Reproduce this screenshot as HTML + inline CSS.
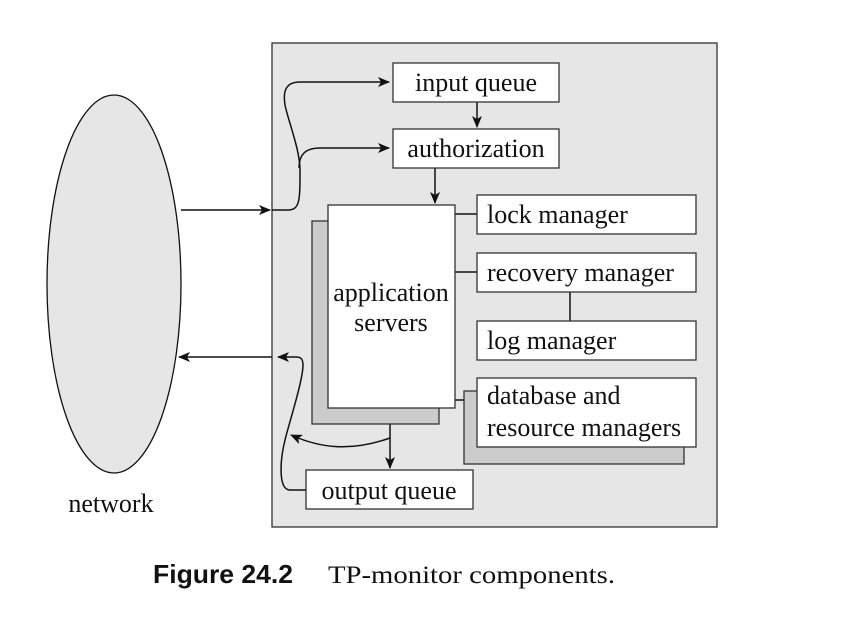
<!DOCTYPE html>
<html><head><meta charset="utf-8"><style>
html,body{margin:0;padding:0;background:#fff}
svg{display:block}
text{font-family:"Liberation Serif",serif;font-size:26px;fill:#111}
</style></head><body>
<svg width="851" height="637" viewBox="0 0 851 637" xmlns="http://www.w3.org/2000/svg">
<defs>
<marker id="a" viewBox="0 0 12 10" refX="11" refY="5" markerWidth="12" markerHeight="10" markerUnits="userSpaceOnUse" orient="auto">
<path d="M0,0 L12,5 L0,10 L3,5 Z" fill="#111"/></marker>
</defs>
<rect x="272" y="43" width="445" height="484" fill="#e6e6e6" stroke="#333" stroke-width="1.3"/>
<ellipse cx="114" cy="284" rx="67" ry="189" fill="#e6e6e6" stroke="#111" stroke-width="1.3"/>
<text x="111" y="512" text-anchor="middle">network</text>
<g stroke="#111" stroke-width="1.5" fill="none">
<line x1="181" y1="210" x2="270" y2="210" marker-end="url(#a)"/>
<path d="M272,210 L288,210 C300,210 300,200 300,170 C300,150 288,120 285,105 C283,92 285,82 300,82 L389,82" marker-end="url(#a)"/>
<path d="M299,168 C299,155 305,148 320,148 L389,148" marker-end="url(#a)"/>
<line x1="477" y1="102" x2="477" y2="127" marker-end="url(#a)"/>
<line x1="435" y1="168" x2="435" y2="203" marker-end="url(#a)"/>
<line x1="272" y1="357" x2="179" y2="357" marker-end="url(#a)"/>
<path d="M306,490 L290,490 C278,490 280,460 285,440 C290,420 303,380 303,365 C303,358 300,357 296,357 L278,357" marker-end="url(#a)"/>
<line x1="390" y1="408" x2="390" y2="468" marker-end="url(#a)"/>
<path d="M390,438 C350,452 320,448 291,435" marker-end="url(#a)"/>
<line x1="455" y1="214" x2="477" y2="214"/>
<line x1="455" y1="272" x2="477" y2="272"/>
<line x1="570" y1="292" x2="570" y2="321"/>
<line x1="455" y1="400" x2="477" y2="400"/>
</g>
<g stroke="#333" stroke-width="1.3">
<rect x="312" y="221" width="127" height="203" fill="#cccccc"/>
<rect x="328" y="205" width="127" height="203" fill="#fff"/>
<rect x="464" y="391" width="220" height="73" fill="#cccccc"/>
<rect x="477" y="378" width="219" height="69" fill="#fff"/>
<rect x="393" y="63" width="166" height="39" fill="#fff"/>
<rect x="393" y="129" width="166" height="39" fill="#fff"/>
<rect x="477" y="195" width="219" height="39" fill="#fff"/>
<rect x="477" y="253" width="219" height="39" fill="#fff"/>
<rect x="477" y="321" width="219" height="39" fill="#fff"/>
<rect x="306" y="470" width="167" height="39" fill="#fff"/>
</g>
<text x="476" y="91" text-anchor="middle">input queue</text>
<text x="476" y="157" text-anchor="middle">authorization</text>
<text x="391" y="301" text-anchor="middle">application</text>
<text x="391" y="331" text-anchor="middle">servers</text>
<text x="487" y="223">lock manager</text>
<text x="487" y="281">recovery manager</text>
<text x="487" y="349">log manager</text>
<text x="487" y="404">database and</text>
<text x="487" y="436">resource managers</text>
<text x="389" y="499" text-anchor="middle">output queue</text>
<text x="153" y="583" textLength="140" lengthAdjust="spacingAndGlyphs" style="font-family:'Liberation Sans',sans-serif;font-weight:bold;font-size:26px">Figure 24.2</text>
<text x="328" y="583" textLength="287" lengthAdjust="spacingAndGlyphs" style="font-size:25px">TP-monitor components.</text>
</svg>
</body></html>
